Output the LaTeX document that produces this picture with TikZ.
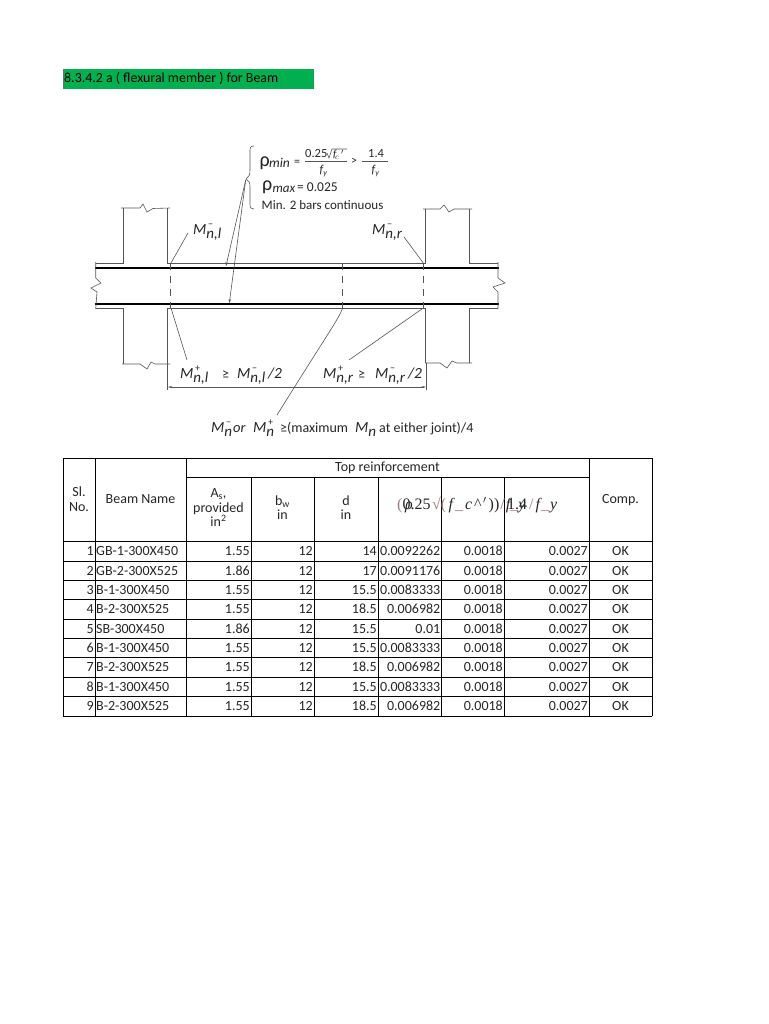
\documentclass[tikz,border=0pt]{standalone}
\usepackage{fontspec}
\setmainfont{Carlito}
\newfontfamily\serifit{Liberation Serif}
\usetikzlibrary{arrows.meta}
\definecolor{gbar}{HTML}{00B050}
\definecolor{lin}{HTML}{555555}
\definecolor{fml}{HTML}{9A7F7F}
\definecolor{ink}{HTML}{262626}
\tikzset{
 thin line/.style={draw=lin,line width=0.9pt},
 leader/.style={draw=lin,line width=0.6pt},
 rebar/.style={draw=black,line width=2pt},
 dashv/.style={draw=lin,line width=0.6pt,dash pattern=on 7pt off 6pt},
 grid/.style={draw=black,line width=0.8pt},
 t/.style={inner sep=0pt,font=\fontsize{14}{14.5}\selectfont,text=ink},
 tl/.style={t,anchor=base west},
 tr/.style={t,anchor=base east},
 tb/.style={t,anchor=base},
 dg/.style={inner sep=0pt,text=ink,anchor=base west},
 fm/.style={inner sep=0pt,text=ink,anchor=base west,font=\fontsize{16}{16}\serifit},
}
\newcommand{\hfc}[1]{\textcolor{fml}{#1}}
\newcommand{\ital}{\itshape}
% moment symbol: M with stacked superscript and subscript
\newcommand{\mmt}[2]{{\fontsize{15.5}{16}\selectfont\itshape M\rlap{\raisebox{7pt}{\upshape\fontsize{10}{10}\selectfont\,#1}}\raisebox{-4pt}{\fontsize{15}{15}\selectfont #2}}}
\begin{document}
\begin{tikzpicture}[x=1pt,y=-1pt]
\useasboundingbox (0,0) rectangle (768,1024);
\fill[white] (0,0) rectangle (768,1024);
% header
\node[fill=gbar,minimum width=251pt,minimum height=20pt,inner sep=0pt,anchor=north west] (bar) at (63,69) {};
\node[tl,text=black,font=\fontsize{13.9}{14.5}\selectfont] (bart) at (64,83) {8.3.4.2 a ( flexural member ) for Beam};
% beam rebars
\coordinate (lt) at (95,267.6); \coordinate (rt) at (499,267.6);
\coordinate (lb) at (95,303.6); \coordinate (rb) at (499,303.6);
\draw[rebar] (lt)--(rt);
\draw[rebar] (lb)--(rb);
% outline top
\draw[thin line] (96,263) -- (123.3,263) -- (123.3,208);
\draw[leader] (121,208) -- (140,208) -- (143,204) -- (147,212) -- (153,208.5) -- (170,208);
\draw[thin line] (167.3,208) -- (167.3,263) -- (425,263) -- (425,209);
\draw[leader] (423,209) -- (440,209) -- (444,205) -- (449,212) -- (454,209) -- (472,209);
\draw[thin line] (469,209) -- (469,263) -- (498,263);
% outline bottom
\draw[thin line] (96,308) -- (123.3,308) -- (123.3,364);
\draw[leader] (122,364) -- (140,364) -- (147,369) -- (151,362) -- (155,364) -- (170,364);
\draw[thin line] (167.3,364) -- (167.3,308) -- (425,308) -- (425,363);
\draw[leader] (425,363) -- (440,363) -- (447,368) -- (452,361) -- (457,363) -- (472,363);
\draw[thin line] (469,363) -- (469,308) -- (498,308);
% breaks
\draw[leader] (95.7,262) -- (95.7,278) -- (101,283) -- (91,288) -- (97,292) -- (95.7,309);
\draw[leader] (498,262) -- (498,278) -- (505,283) -- (493,287) -- (498,292) -- (498,309);
% dashed
\foreach \x in {170.7,342.7,423.3} \draw[dashv] (\x,263) -- (\x,308);
% brace
\draw[leader] (254,146) .. controls (250,146) and (250,148) .. (250,152) -- (250,170) .. controls (250,175) and (249,177) .. (246,179) .. controls (249,180) and (250,183) .. (250,187) -- (250,204) .. controls (250,208) and (251,209) .. (254,209);
% arrows
\coordinate (ap) at (245.7,180);
\coordinate (a1) at (226,266); \coordinate (a2) at (229.3,303);
\draw[leader,-{Stealth[length=4pt,width=2.5pt]}] (ap) -- (a1);
\draw[leader,-{Stealth[length=4pt,width=2.5pt]}] (ap) -- (a2);
% leaders
\coordinate (mnl) at (188,233); \coordinate (mnr) at (404,237);
\draw[leader] (171,263) -- (mnl);
\draw[leader] (423.3,263) -- (mnr);
\draw[leader] (171,308) -- (187,360);
\draw[leader] (342.7,308) .. controls (338,320) and (330,330) .. (277,415);
\draw[leader] (423.3,308) -- (349,360);
% dimension
\coordinate (dl) at (167.3,387); \coordinate (dr) at (426.5,387);
\draw[leader] (167.3,364) -- (167.3,390);
\draw[leader] (426.5,363) -- (426.5,390);
\draw[leader,{Stealth[length=5pt,width=2pt]}-{Stealth[length=5pt,width=2pt]}] (dl) -- (dr);
% formula
\node[dg] (rhomin) at (259.5,167) {\fontsize{20}{20}\selectfont ρ};
\node[dg] (minl) at (269,168) {\fontsize{13.5}{14}\selectfont\itshape min};
\node[dg] (eq) at (294,166) {\fontsize{12}{12}\selectfont =};
\node[dg] (n1) at (305,158) {\fontsize{12.5}{12.5}\selectfont 0.25};
\draw[leader] (327,153) -- (329,158) -- (332,149) -- (347,149);
\node[dg] (fc) at (333,158) {\fontsize{11}{11}\selectfont\itshape f$_{\!c}$\,$'$};
\draw[leader] (305,161.5) -- (347,161.5);
\node[dg] (fy1) at (319.5,174) {\fontsize{12}{12}\selectfont\itshape f\textsubscript{y}};
\node[dg] (gt) at (351,165) {\fontsize{12}{12}\selectfont >};
\node[dg] (n2) at (368,158) {\fontsize{12.5}{12.5}\selectfont 1.4};
\draw[leader] (362,161.5) -- (388,161.5);
\node[dg] (fy2) at (371.5,174) {\fontsize{12}{12}\selectfont\itshape f\textsubscript{y}};
\node[dg] (rhomax) at (262,191) {\fontsize{20}{20}\selectfont ρ};
\node[dg] (maxl) at (272.5,193) {\fontsize{13}{13}\selectfont\itshape max};
\node[dg] (v) at (297,192) {\fontsize{13.5}{14}\selectfont = 0.025};
\node[dg] (mb) at (261.5,210) {\fontsize{13}{13}\selectfont Min. 2 bars continuous};
% moments
\node[dg] (ml) at (193,234.5) {\mmt{−}{n,l}};
\node[dg] (mr) at (372,234.5) {\mmt{−}{n,r}};
\node[dg] (e1a) at (180,378) {\mmt{+}{n,l}};
\node[dg] (e1b) at (222,378) {\fontsize{14}{14}\selectfont ≥};
\node[dg] (e1c) at (237,378) {\mmt{−}{n,l}};
\node[dg] (e1d) at (268,378) {\fontsize{15.5}{16}\selectfont\itshape /2};
\node[dg] (e2a) at (323,378) {\mmt{+}{n,r}};
\node[dg] (e2b) at (358,378) {\fontsize{14}{14}\selectfont ≥};
\node[dg] (e2c) at (375,378) {\mmt{−}{n,r}};
\node[dg] (e2d) at (408,378) {\fontsize{15.5}{16}\selectfont\itshape /2};
\node[dg] (e3a) at (211,432) {\mmt{−}{n}};
\node[dg] (e3b) at (233,432) {\fontsize{14.5}{15}\selectfont\itshape or};
\node[dg] (e3c) at (253,432) {\mmt{+}{n}};
\node[dg] (e3d) at (280,432) {\fontsize{14}{14}\selectfont ≥(maximum};
\node[dg] (e3e) at (355,432) {\mmt{}{n}};
\node[dg] (e3f) at (379,432) {\fontsize{14}{14}\selectfont at either joint)/4};
% table
\foreach \x in {63,95,186,589,652} \draw[grid] (\x,458) -- (\x,716);
\foreach \x in {251,314,378,441,504} \draw[grid] (\x,477) -- (\x,716);
\draw[grid] (63,458) -- (652,458);
\draw[grid] (186,477) -- (589,477);
\foreach \y in {541.5,561,580.3,599.7,619,638.3,657.7,677,696.5,716} \draw[grid] (63,\y) -- (652,\y);
% header text
\node[tb] (h0) at (387.5,471.5) {Top reinforcement};
\node[tb] (h1a) at (79,496.5) {Sl.};
\node[tb] (h1b) at (79,511) {No.};
\node[tb] (h2) at (140.5,503) {Beam Name};
\node[tb] (h3a) at (218.5,497.5) {A\textsubscript{s},};
\node[tb] (h3b) at (218.5,512) {provided};
\node[tb] (h3c) at (218.5,526.5) {in\textsuperscript{2}};
\node[tb] (h4a) at (282.5,505) {b\textsubscript{w}};
\node[tb] (h4b) at (282.5,519.5) {in};
\node[tb] (h5a) at (346,505) {d};
\node[tb] (h5b) at (346,519.5) {in};
\node[tb] (h9) at (620.5,503) {Comp.};
\node[fm] (f1) at (397,509.5) {\hfc{(}0.25\hspace{1.5pt}\hfc{√(}\hspace{2.5pt}{\ital f}\hspace{2pt}\hfc{\_}\hspace{2pt}{\ital c}\hspace{2pt}\^{}\hspace{1.5pt}$'$\hspace{2pt}))\hspace{1pt}\hfc{/}\hspace{1pt}{\ital f}\hfc{\_}{\ital y}};
\node[fm] (f2) at (405,509) {{\ital ρ}};
\node[fm] (f4) at (507,509.5) {1.4\hspace{2pt}\hfc{/}\hspace{2pt}{\ital f}\hspace{1pt}\hfc{\_}\hspace{1pt}{\ital y}};
% rows
\def\rowdata{%
 1/GB-1-300X450/1.55/12/14/0.0092262,
 2/GB-2-300X525/1.86/12/17/0.0091176,
 3/B-1-300X450/1.55/12/15.5/0.0083333,
 4/B-2-300X525/1.55/12/18.5/0.006982,
 5/SB-300X450/1.86/12/15.5/0.01,
 6/B-1-300X450/1.55/12/15.5/0.0083333,
 7/B-2-300X525/1.55/12/18.5/0.006982,
 8/B-1-300X450/1.55/12/15.5/0.0083333,
 9/B-2-300X525/1.55/12/18.5/0.006982}
\foreach \n/\nm/\as/\bw/\dd/\rr in \rowdata {
 \pgfmathsetmacro{\yy}{555.7+(\n-1)*19.38}
 \node[tr] (r\n a) at (94,\yy) {\n};
 \node[tl] (r\n b) at (96,\yy) {\nm};
 \node[tr] (r\n c) at (250,\yy) {\as};
 \node[tr] (r\n d) at (313,\yy) {\bw};
 \node[tr] (r\n e) at (377,\yy) {\dd};
 \node[tr] (r\n f) at (440.5,\yy) {\rr};
 \node[tr] (r\n g) at (503,\yy) {0.0018};
 \node[tr] (r\n h) at (588,\yy) {0.0027};
 \node[tb] (r\n i) at (620.5,\yy) {OK};
}
\end{tikzpicture}
\end{document}
